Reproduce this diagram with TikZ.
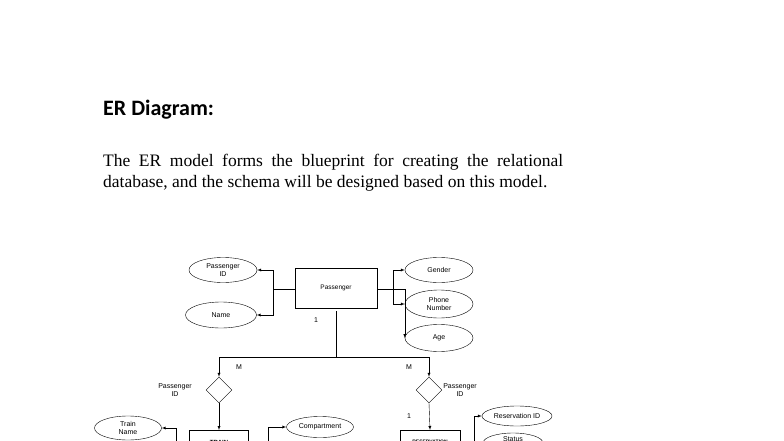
\documentclass[tikz,border=0pt]{standalone}
\usepackage{fontspec}
\setmainfont{Liberation Serif}
\newfontfamily\headfont{Carlito}
\newfontfamily\diagfont{Liberation Sans}
\usetikzlibrary{shapes.geometric}
\begin{document}
\begin{tikzpicture}[x=1pt, y=-1pt, >=latex]
	\tikzstyle{entity}=[draw, thin, rectangle, minimum width=60pt, font=\diagfont\fontsize{6.5}{7.5}\selectfont]
	\tikzstyle{attr}=[draw, thin, ellipse, minimum width=68pt, minimum height=25pt, inner sep=0pt, align=center, font=\diagfont\fontsize{7}{8}\selectfont]
	\tikzstyle{rel}=[draw, thin, diamond, minimum size=26pt, inner sep=0pt]
	\tikzstyle{lbl}=[align=center, font=\diagfont\fontsize{7}{8}\selectfont]

	\useasboundingbox (0,0) rectangle (784,441);
	\clip (0,0) rectangle (784,441);

	% heading and text
	\node [anchor=west, inner sep=0pt, font=\headfont\bfseries\fontsize{22}{24}\selectfont] (title) at (103,110) {ER Diagram:};
	\node [anchor=west, inner sep=0pt, font=\fontsize{17.5}{19}\selectfont] (line1) at (103,162) {\makebox[460pt][s]{The ER model forms the blueprint for creating the relational}};
	\node [anchor=west, inner sep=0pt, font=\fontsize{17.5}{19}\selectfont] (line2) at (103,183) {database, and the schema will be designed based on this model.};

	% passenger
	\node [entity, minimum width=82pt, minimum height=40pt] (pass) at (336,288) {Passenger};
	\node [attr] (pid) at (223,270) {Passenger\\ID};
	\node [attr, minimum width=71pt, minimum height=26pt] (name) at (221,315) {Name};
	\node [attr] (gender) at (439,270) {Gender};
	\node [attr, minimum height=28pt] (phone) at (439,304) {Phone\\Number};
	\node [attr, minimum height=27pt] (age) at (439,338) {Age};

	\coordinate (lj) at (273,289);
	\coordinate (rj) at (393,289);
	\draw (pass.west |- lj) -- (lj);
	\draw [->] (lj) |- (pid.east);
	\draw [->] (lj) |- (name.east);
	\draw (pass.east |- rj) -- (rj);
	\draw [->] (rj) |- (gender.west);
	\draw [->] (rj) |- (phone.west);
	\draw [->] (pass.east |- rj) -| (age.west);

	\node [lbl] (one1) at (316,320) {1};

	% relationships
	\node [rel] (rel1) at (219,390) {};
	\node [rel] (rel2) at (429,390) {};
	\coordinate (split) at (336,357);
	\draw (pass.south |- 0,311) -- (split);
	\draw [->] (split) -| (rel1.north);
	\draw [->] (split) -| (rel2.north);
	\node [lbl] (m1) at (239,367) {M};
	\node [lbl] (m2) at (409,367) {M};
	\node [lbl] (rid1) at (175,390) {Passenger\\ID};
	\node [lbl] (rid2) at (460,390) {Passenger\\ID};
	\node [lbl] (one2) at (409,416) {1};

	% lower entities
	\node [entity, anchor=north, minimum width=59pt, minimum height=30pt, font=\diagfont\bfseries\fontsize{6}{7}\selectfont] (train) at (219,430) {\raisebox{6pt}{TRAIN}};
	\node [entity, anchor=north, minimum width=60pt, minimum height=30pt, font=\diagfont\bfseries\fontsize{5}{6}\selectfont] (resv) at (430,430) {\raisebox{6pt}{RESERVATION}};
	\draw [->] (rel1.south) -- (train.north);
	\draw [->] (rel2.south) -- (resv.north);

	\node [attr, minimum width=67pt, minimum height=24pt] (tname) at (128,428) {Train\\Name};
	\node [attr, minimum width=67pt, minimum height=21pt] (comp) at (320,427) {Compartment};
	\node [attr, minimum width=70pt, minimum height=20pt] (resid) at (517,416) {Reservation ID};
	\node [attr, minimum width=60pt, minimum height=20pt, text depth=8pt] (status) at (513,443) {Status};

	\coordinate (tj) at (176,450);
	\coordinate (cj) at (268,450);
	\coordinate (sj) at (474,450);
	\draw [->] (tj) |- (tname.east);
	\draw [->] (cj) |- (comp.west);
	\draw [->] (sj) |- (resid.west);
	\draw [->] (sj) |- (status.west);
\end{tikzpicture}
\end{document}
